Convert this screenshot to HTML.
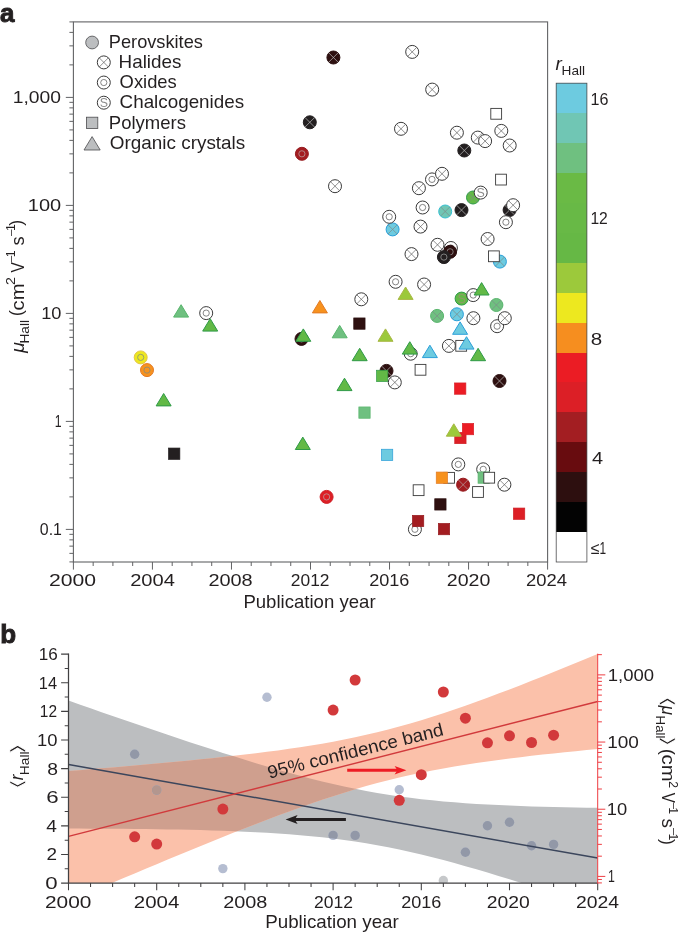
<!DOCTYPE html>
<html lang="en"><head><meta charset="utf-8"><title>Hall mobility versus publication year</title>
<style>html,body{margin:0;padding:0;background:#fff}body{width:685px;height:933px;overflow:hidden}svg{display:block}text{font-family:"Liberation Sans", "DejaVu Sans", Arial, Helvetica, sans-serif}</style></head><body>
<svg width="685" height="933" viewBox="0 0 685 933">
<rect width="685" height="933" fill="#fff"/>
<g id="panel-a">
 <text x="0.1" y="21.6" font-size="26" font-weight="bold" fill="#231f20" stroke="#231f20" stroke-width="0.9">a</text>
<path d="M73.4 561.91H69.4M73.4 553.36H69.4M73.4 546.13H69.4M73.4 539.87H69.4M73.4 534.34H69.4M73.4 529.4H65.8M73.4 496.89H69.4M73.4 477.87H69.4M73.4 464.38H69.4M73.4 453.91H69.4M73.4 445.36H69.4M73.4 438.13H69.4M73.4 431.87H69.4M73.4 426.34H69.4M73.4 421.4H65.8M73.4 388.89H69.4M73.4 369.87H69.4M73.4 356.38H69.4M73.4 345.91H69.4M73.4 337.36H69.4M73.4 330.13H69.4M73.4 323.87H69.4M73.4 318.34H69.4M73.4 313.4H65.8M73.4 280.89H69.4M73.4 261.87H69.4M73.4 248.38H69.4M73.4 237.91H69.4M73.4 229.36H69.4M73.4 222.13H69.4M73.4 215.87H69.4M73.4 210.34H69.4M73.4 205.4H65.8M73.4 172.89H69.4M73.4 153.87H69.4M73.4 140.38H69.4M73.4 129.91H69.4M73.4 121.36H69.4M73.4 114.13H69.4M73.4 107.87H69.4M73.4 102.34H69.4M73.4 97.4H65.8M73.4 64.89H69.4M73.4 45.87H69.4M73.4 32.38H69.4M73.4 21.91H69.4M73.4 562V569.6M93.16 562V566M112.92 562V566M132.68 562V566M152.43 562V569.6M172.19 562V566M191.95 562V566M211.71 562V566M231.47 562V569.6M251.23 562V566M270.98 562V566M290.74 562V566M310.5 562V569.6M330.26 562V566M350.02 562V566M369.78 562V566M389.53 562V569.6M409.29 562V566M429.05 562V566M448.81 562V566M468.57 562V569.6M488.33 562V566M508.08 562V566M527.84 562V566M547.6 562V569.6" stroke="#626365" stroke-width="1" fill="none"/>
<rect x="73.4" y="21.9" width="474.2" height="540.1" fill="none" stroke="#626365" stroke-width="1.1"/>
<text id="ay0" x="12.8" y="103.4" font-size="17" fill="#231f20" textLength="48.23" lengthAdjust="spacingAndGlyphs">1,000</text>
<text id="ay1" x="27.8" y="211.4" font-size="17" fill="#231f20" textLength="33.38" lengthAdjust="spacingAndGlyphs">100</text>
<text id="ay2" x="41.2" y="319.4" font-size="17" fill="#231f20" textLength="20.26" lengthAdjust="spacingAndGlyphs">10</text>
<text id="ay3" x="54.8" y="427.4" font-size="17" fill="#231f20" textLength="6.83" lengthAdjust="spacingAndGlyphs">1</text>
<text id="ay4" x="39.8" y="535.4" font-size="17" fill="#231f20" textLength="22.1" lengthAdjust="spacingAndGlyphs">0.1</text>
<text id="ax0" x="49" y="586.4" font-size="17" fill="#231f20" textLength="47.07" lengthAdjust="spacingAndGlyphs">2000</text>
<text id="ax1" x="130.2" y="586.4" font-size="17" fill="#231f20" textLength="44.75" lengthAdjust="spacingAndGlyphs">2004</text>
<text id="ax2" x="208.4" y="586.4" font-size="17" fill="#231f20" textLength="44.32" lengthAdjust="spacingAndGlyphs">2008</text>
<text id="ax3" x="290.8" y="586.4" font-size="17" fill="#231f20" textLength="38.68" lengthAdjust="spacingAndGlyphs">2012</text>
<text id="ax4" x="369.2" y="586.4" font-size="17" fill="#231f20" textLength="40.24" lengthAdjust="spacingAndGlyphs">2016</text>
<text id="ax5" x="446.8" y="586.4" font-size="17" fill="#231f20" textLength="43.54" lengthAdjust="spacingAndGlyphs">2020</text>
<text id="ax6" x="526" y="586.4" font-size="17" fill="#231f20" textLength="41.01" lengthAdjust="spacingAndGlyphs">2024</text>
<text id="axt" x="243.4" y="608.2" font-size="17.8" fill="#231f20" textLength="132.19" lengthAdjust="spacingAndGlyphs">Publication year</text>
<text id="at_mu" transform="translate(23.5 352.8) rotate(-90)" font-size="17.5" fill="#231f20" textLength="10.68" lengthAdjust="spacingAndGlyphs" font-style="italic">μ</text>
<text id="at_hall" transform="translate(28.9 343.6) rotate(-90)" font-size="12.8" fill="#231f20" textLength="23.63" lengthAdjust="spacingAndGlyphs">Hall</text>
<text id="at_par" transform="translate(22.2 315.9) rotate(-90)" font-size="17.5" fill="#231f20">(</text>
<text id="at_cm" transform="translate(23.5 310.4) rotate(-90)" font-size="17.5" fill="#231f20" textLength="26.87" lengthAdjust="spacingAndGlyphs">cm</text>
<text id="at_2" transform="translate(15.2 285) rotate(-90)" font-size="12.3" fill="#231f20" textLength="7.95" lengthAdjust="spacingAndGlyphs">2</text>
<text id="at_v" transform="translate(23.5 272.4) rotate(-90)" font-size="17.5" fill="#231f20" textLength="10.44" lengthAdjust="spacingAndGlyphs">V</text>
<text id="at_m1m" transform="translate(14.9 263) rotate(-90)" font-size="11" fill="#231f20" textLength="7.98" lengthAdjust="spacingAndGlyphs">−</text>
<text id="at_m1" transform="translate(15.2 257.15) rotate(-90)" font-size="12.3" fill="#231f20">1</text>
<text id="at_s" transform="translate(23.5 245.4) rotate(-90)" font-size="17.5" fill="#231f20" textLength="9.18" lengthAdjust="spacingAndGlyphs">s</text>
<text id="at_m1bm" transform="translate(14.9 236.8) rotate(-90)" font-size="11" fill="#231f20" textLength="7.78" lengthAdjust="spacingAndGlyphs">−</text>
<text id="at_m1b" transform="translate(15.2 231) rotate(-90)" font-size="12.3" fill="#231f20">1</text>
<text id="at_par2" transform="translate(22.2 225.75) rotate(-90)" font-size="17.5" fill="#231f20">)</text>
<circle cx="92.1" cy="42.5" r="6.4" fill="#bcbec0" stroke="#4d4d4f" stroke-width="0.8"/>
<text id="lg0" x="108.8" y="47.8" font-size="17.8" fill="#231f20" textLength="94.11" lengthAdjust="spacingAndGlyphs">Perovskites</text>
<circle cx="103.8" cy="62.4" r="6.5" fill="#ffffff" stroke="#3a3a3a" stroke-width="1"/><path d="M99.05 57.65L108.55 67.15M99.05 67.15L108.55 57.65" stroke="#5e5e5e" stroke-width="0.7" fill="none"/>
<text id="lg1" x="118.6" y="67.6" font-size="17.8" fill="#231f20" textLength="62.86" lengthAdjust="spacingAndGlyphs">Halides</text>
<circle cx="103.8" cy="82.55" r="6.5" fill="#ffffff" stroke="#3a3a3a" stroke-width="1"/><circle cx="103.8" cy="82.55" r="3.1" fill="none" stroke="#5e5e5e" stroke-width="0.75"/>
<text id="lg2" x="119.6" y="87.75" font-size="17.8" fill="#231f20" textLength="57.15" lengthAdjust="spacingAndGlyphs">Oxides</text>
<circle cx="103.8" cy="102.7" r="6.5" fill="#ffffff" stroke="#3a3a3a" stroke-width="1"/><text x="103.8" y="107.15" font-size="12.4" text-anchor="middle" fill="#8c8c8c">S</text>
<text id="lg3" x="119.6" y="107.9" font-size="17.8" fill="#231f20" textLength="124.49" lengthAdjust="spacingAndGlyphs">Chalcogenides</text>
<rect x="86.4" y="117.2" width="11.4" height="11.4" fill="#bcbec0" stroke="#4d4d4f" stroke-width="0.8"/>
<text id="lg4" x="108.8" y="128.6" font-size="17.8" fill="#231f20" textLength="77.15" lengthAdjust="spacingAndGlyphs">Polymers</text>
<path d="M92.1 136.6L100.2 150H84Z" fill="#bcbec0" stroke="#4d4d4f" stroke-width="0.8"/>
<text id="lg5" x="109.8" y="149" font-size="17.8" fill="#231f20" textLength="135.47" lengthAdjust="spacingAndGlyphs">Organic crystals</text>
<rect x="556.2" y="83.2" width="30.7" height="30.53" fill="#6dcbe0" shape-rendering="crispEdges"/>
<rect x="556.2" y="113.12" width="30.7" height="30.53" fill="#70c6b4" shape-rendering="crispEdges"/>
<rect x="556.2" y="143.05" width="30.7" height="30.53" fill="#6fc080" shape-rendering="crispEdges"/>
<rect x="556.2" y="172.98" width="30.7" height="30.53" fill="#6aba45" shape-rendering="crispEdges"/>
<rect x="556.2" y="202.9" width="30.7" height="30.53" fill="#68b946" shape-rendering="crispEdges"/>
<rect x="556.2" y="232.82" width="30.7" height="30.53" fill="#66b845" shape-rendering="crispEdges"/>
<rect x="556.2" y="262.75" width="30.7" height="30.53" fill="#9cc93b" shape-rendering="crispEdges"/>
<rect x="556.2" y="292.68" width="30.7" height="30.53" fill="#ede81f" shape-rendering="crispEdges"/>
<rect x="556.2" y="322.6" width="30.7" height="30.53" fill="#f68e1f" shape-rendering="crispEdges"/>
<rect x="556.2" y="352.52" width="30.7" height="30.53" fill="#eb1c24" shape-rendering="crispEdges"/>
<rect x="556.2" y="382.45" width="30.7" height="30.53" fill="#dc1f26" shape-rendering="crispEdges"/>
<rect x="556.2" y="412.38" width="30.7" height="30.53" fill="#a31e22" shape-rendering="crispEdges"/>
<rect x="556.2" y="442.3" width="30.7" height="30.53" fill="#680c0f" shape-rendering="crispEdges"/>
<rect x="556.2" y="472.23" width="30.7" height="30.53" fill="#2d0f0f" shape-rendering="crispEdges"/>
<rect x="556.2" y="502.15" width="30.7" height="30.53" fill="#030303" shape-rendering="crispEdges"/>
<rect x="556.2" y="532.08" width="30.7" height="29.93" fill="#ffffff" shape-rendering="crispEdges"/>
<rect x="556.2" y="83.2" width="30.7" height="478.8" fill="none" stroke="#4d4d4f" stroke-width="0.8"/>
<text id="cb0" x="590.6" y="104.9" font-size="17" fill="#231f20" textLength="17.95" lengthAdjust="spacingAndGlyphs">16</text>
<text id="cb1" x="590.4" y="224.2" font-size="17" fill="#231f20" textLength="17.42" lengthAdjust="spacingAndGlyphs">12</text>
<text id="cb2" x="590.8" y="344.5" font-size="17" fill="#231f20" textLength="11.45" lengthAdjust="spacingAndGlyphs">8</text>
<text id="cb3" x="592" y="464" font-size="17" fill="#231f20" textLength="11.11" lengthAdjust="spacingAndGlyphs">4</text>
<text id="cb4a" x="590.4" y="553.9" font-size="16.5" fill="#231f20" textLength="8.78" lengthAdjust="spacingAndGlyphs">≤</text>
<text id="cb4b" x="599.5" y="553.9" font-size="17" fill="#231f20" textLength="6.62" lengthAdjust="spacingAndGlyphs">1</text>
<text id="cbr" x="555.4" y="69.9" font-size="18.5" fill="#231f20" textLength="6.32" lengthAdjust="spacingAndGlyphs" font-style="italic">r</text>
<text id="cbh" x="561.6" y="75" font-size="12.8" fill="#231f20" textLength="23.52" lengthAdjust="spacingAndGlyphs">Hall</text>
<g id="markers-a">
<path d="M181.1 304.7L188.6 317.1L173.6 317.1Z" fill="#6fc080" stroke="#58b56c" stroke-width="1" stroke-linejoin="miter"/>
<circle cx="206.2" cy="313.1" r="6.5" fill="#ffffff" stroke="#3a3a3a" stroke-width="1"/><circle cx="206.2" cy="313.1" r="3.1" fill="none" stroke="#5e5e5e" stroke-width="0.75"/>
<path d="M210.2 318.7L217.7 331.1L202.7 331.1Z" fill="#62b946" stroke="#2e9a47" stroke-width="1" stroke-linejoin="miter"/>
<circle cx="147" cy="370.1" r="6.5" fill="#f7921e" stroke="#e27a25" stroke-width="1"/><circle cx="147" cy="370.1" r="3.1" fill="none" stroke="#7d8a86" stroke-width="0.75"/>
<circle cx="140.7" cy="357.4" r="6.5" fill="#ede81f" stroke="#e3c54a" stroke-width="1"/><circle cx="140.7" cy="357.4" r="3.1" fill="none" stroke="#7d8a86" stroke-width="0.75"/>
<path d="M163.65 393.5L171.15 405.9L156.15 405.9Z" fill="#62b946" stroke="#2e9a47" stroke-width="1" stroke-linejoin="miter"/>
<rect x="168.55" y="448.05" width="11.3" height="11.3" fill="#231f20" stroke="#231f20" stroke-width="0.7"/>
<circle cx="333.4" cy="57.5" r="6.5" fill="#2e1010" stroke="#2a0e0e" stroke-width="1"/><path d="M328.65 52.75L338.15 62.25M328.65 62.25L338.15 52.75" stroke="#bdbdbd" stroke-width="0.7" fill="none"/>
<circle cx="309.8" cy="122.3" r="6.5" fill="#231f20" stroke="#231f20" stroke-width="1"/><path d="M305.05 117.55L314.55 127.05M305.05 127.05L314.55 117.55" stroke="#bdbdbd" stroke-width="0.7" fill="none"/>
<circle cx="301.9" cy="153.8" r="6.5" fill="#a31d21" stroke="#961b1f" stroke-width="1"/><circle cx="301.9" cy="153.8" r="3.1" fill="none" stroke="#b9a3a3" stroke-width="0.75"/>
<circle cx="335" cy="186.2" r="6.5" fill="#ffffff" stroke="#3a3a3a" stroke-width="1"/><path d="M330.25 181.45L339.75 190.95M330.25 190.95L339.75 181.45" stroke="#5e5e5e" stroke-width="0.7" fill="none"/>
<path d="M319.9 300.5L327.4 312.9L312.4 312.9Z" fill="#f7921e" stroke="#e27a25" stroke-width="1" stroke-linejoin="miter"/>
<circle cx="361.3" cy="299.3" r="6.5" fill="#ffffff" stroke="#3a3a3a" stroke-width="1"/><path d="M356.55 294.55L366.05 304.05M356.55 304.05L366.05 294.55" stroke="#5e5e5e" stroke-width="0.7" fill="none"/>
<rect x="353.75" y="317.95" width="11.3" height="11.3" fill="#2e1010" stroke="#2a0e0e" stroke-width="0.7"/>
<circle cx="301.5" cy="338.9" r="6.5" fill="#2e1010" stroke="#2a0e0e" stroke-width="1"/><circle cx="301.5" cy="338.9" r="3.1" fill="none" stroke="#9c9c9c" stroke-width="0.75"/>
<path d="M303.3 328.9L310.8 341.3L295.8 341.3Z" fill="#62b946" stroke="#2e9a47" stroke-width="1" stroke-linejoin="miter"/>
<path d="M339.7 325.4L347.2 337.8L332.2 337.8Z" fill="#6fc080" stroke="#58b56c" stroke-width="1" stroke-linejoin="miter"/>
<path d="M385.5 328.9L393 341.3L378 341.3Z" fill="#9cc93b" stroke="#a9b845" stroke-width="1" stroke-linejoin="miter"/>
<path d="M359.7 348.3L367.2 360.7L352.2 360.7Z" fill="#62b946" stroke="#2e9a47" stroke-width="1" stroke-linejoin="miter"/>
<path d="M344.5 378.2L352 390.6L337 390.6Z" fill="#62b946" stroke="#2e9a47" stroke-width="1" stroke-linejoin="miter"/>
<circle cx="386.5" cy="370.9" r="6.5" fill="#2e1010" stroke="#2a0e0e" stroke-width="1"/><path d="M381.75 366.15L391.25 375.65M381.75 375.65L391.25 366.15" stroke="#bdbdbd" stroke-width="0.7" fill="none"/>
<rect x="376.55" y="370.25" width="11.3" height="11.3" fill="#62b946" stroke="#2e9a47" stroke-width="0.7"/>
<circle cx="394.8" cy="382.4" r="6.5" fill="#ffffff" stroke="#3a3a3a" stroke-width="1"/><path d="M390.05 377.65L399.55 387.15M390.05 387.15L399.55 377.65" stroke="#5e5e5e" stroke-width="0.7" fill="none"/>
<rect x="358.85" y="406.95" width="11.3" height="11.3" fill="#6fc080" stroke="#58b56c" stroke-width="0.7"/>
<path d="M302.8 437.1L310.3 449.5L295.3 449.5Z" fill="#62b946" stroke="#2e9a47" stroke-width="1" stroke-linejoin="miter"/>
<rect x="381.45" y="449.25" width="11.3" height="11.3" fill="#6dcbe0" stroke="#2b9fd9" stroke-width="0.7"/>
<circle cx="326.6" cy="496.9" r="6.5" fill="#dd1f26" stroke="#cf2027" stroke-width="1"/><circle cx="326.6" cy="496.9" r="3.1" fill="none" stroke="#b9a3a3" stroke-width="0.75"/>
<circle cx="412.2" cy="51.9" r="6.5" fill="#ffffff" stroke="#3a3a3a" stroke-width="1"/><path d="M407.45 47.15L416.95 56.65M407.45 56.65L416.95 47.15" stroke="#5e5e5e" stroke-width="0.7" fill="none"/>
<circle cx="432.2" cy="89.6" r="6.5" fill="#ffffff" stroke="#3a3a3a" stroke-width="1"/><path d="M427.45 84.85L436.95 94.35M427.45 94.35L436.95 84.85" stroke="#5e5e5e" stroke-width="0.7" fill="none"/>
<circle cx="401" cy="128.8" r="6.5" fill="#ffffff" stroke="#3a3a3a" stroke-width="1"/><path d="M396.25 124.05L405.75 133.55M396.25 133.55L405.75 124.05" stroke="#5e5e5e" stroke-width="0.7" fill="none"/>
<circle cx="456.9" cy="132.7" r="6.5" fill="#ffffff" stroke="#3a3a3a" stroke-width="1"/><path d="M452.15 127.95L461.65 137.45M452.15 137.45L461.65 127.95" stroke="#5e5e5e" stroke-width="0.7" fill="none"/>
<circle cx="477.8" cy="137.6" r="6.5" fill="#ffffff" stroke="#3a3a3a" stroke-width="1"/><path d="M473.05 132.85L482.55 142.35M473.05 142.35L482.55 132.85" stroke="#5e5e5e" stroke-width="0.7" fill="none"/>
<circle cx="485.1" cy="141.1" r="6.5" fill="#ffffff" stroke="#3a3a3a" stroke-width="1"/><path d="M480.35 136.35L489.85 145.85M480.35 145.85L489.85 136.35" stroke="#5e5e5e" stroke-width="0.7" fill="none"/>
<circle cx="464.3" cy="150.5" r="6.5" fill="#231f20" stroke="#231f20" stroke-width="1"/><path d="M459.55 145.75L469.05 155.25M459.55 155.25L469.05 145.75" stroke="#bdbdbd" stroke-width="0.7" fill="none"/>
<rect x="490.8" y="108.4" width="10.8" height="10.8" fill="#fff" stroke="#3a3a3a" stroke-width="0.9"/>
<circle cx="501.3" cy="130.9" r="6.5" fill="#ffffff" stroke="#3a3a3a" stroke-width="1"/><path d="M496.55 126.15L506.05 135.65M496.55 135.65L506.05 126.15" stroke="#5e5e5e" stroke-width="0.7" fill="none"/>
<circle cx="509.7" cy="145.5" r="6.5" fill="#ffffff" stroke="#3a3a3a" stroke-width="1"/><path d="M504.95 140.75L514.45 150.25M504.95 150.25L514.45 140.75" stroke="#5e5e5e" stroke-width="0.7" fill="none"/>
<rect x="495.6" y="174.2" width="10.8" height="10.8" fill="#fff" stroke="#3a3a3a" stroke-width="0.9"/>
<circle cx="432" cy="179.4" r="6.5" fill="#ffffff" stroke="#3a3a3a" stroke-width="1"/><circle cx="432" cy="179.4" r="3.1" fill="none" stroke="#5e5e5e" stroke-width="0.75"/>
<circle cx="442" cy="173.8" r="6.5" fill="#ffffff" stroke="#3a3a3a" stroke-width="1"/><path d="M437.25 169.05L446.75 178.55M437.25 178.55L446.75 169.05" stroke="#5e5e5e" stroke-width="0.7" fill="none"/>
<circle cx="418.9" cy="188.2" r="6.5" fill="#ffffff" stroke="#3a3a3a" stroke-width="1"/><path d="M414.15 183.45L423.65 192.95M414.15 192.95L423.65 183.45" stroke="#5e5e5e" stroke-width="0.7" fill="none"/>
<circle cx="473" cy="197.5" r="6.5" fill="#62b946" stroke="#2e9a47" stroke-width="1"/><path d="M468.25 192.75L477.75 202.25M468.25 202.25L477.75 192.75" stroke="#7d8a86" stroke-width="0.7" fill="none"/>
<circle cx="480.7" cy="192.6" r="6.5" fill="#ffffff" stroke="#3a3a3a" stroke-width="1"/><text x="480.7" y="197.05" font-size="12.4" text-anchor="middle" fill="#8c8c8c">S</text>
<circle cx="392.6" cy="229.4" r="6.5" fill="#6dcbe0" stroke="#2b9fd9" stroke-width="1"/><path d="M387.85 224.65L397.35 234.15M387.85 234.15L397.35 224.65" stroke="#7d8a86" stroke-width="0.7" fill="none"/>
<circle cx="389.2" cy="216.8" r="6.5" fill="#ffffff" stroke="#3a3a3a" stroke-width="1"/><circle cx="389.2" cy="216.8" r="3.1" fill="none" stroke="#5e5e5e" stroke-width="0.75"/>
<circle cx="422.6" cy="207.5" r="6.5" fill="#ffffff" stroke="#3a3a3a" stroke-width="1"/><circle cx="422.6" cy="207.5" r="3.1" fill="none" stroke="#5e5e5e" stroke-width="0.75"/>
<circle cx="420.5" cy="226.6" r="6.5" fill="#ffffff" stroke="#3a3a3a" stroke-width="1"/><path d="M415.75 221.85L425.25 231.35M415.75 231.35L425.25 221.85" stroke="#5e5e5e" stroke-width="0.7" fill="none"/>
<circle cx="445.2" cy="211.5" r="6.5" fill="#70c6b4" stroke="#35c0d2" stroke-width="1"/><path d="M440.45 206.75L449.95 216.25M440.45 216.25L449.95 206.75" stroke="#7d8a86" stroke-width="0.7" fill="none"/>
<circle cx="461.5" cy="210.1" r="6.5" fill="#231f20" stroke="#231f20" stroke-width="1"/><path d="M456.75 205.35L466.25 214.85M456.75 214.85L466.25 205.35" stroke="#bdbdbd" stroke-width="0.7" fill="none"/>
<circle cx="509.6" cy="210" r="6.5" fill="#231f20" stroke="#231f20" stroke-width="1"/><path d="M504.85 205.25L514.35 214.75M504.85 214.75L514.35 205.25" stroke="#bdbdbd" stroke-width="0.7" fill="none"/>
<circle cx="513.1" cy="205.2" r="6.5" fill="#ffffff" stroke="#3a3a3a" stroke-width="1"/><path d="M508.35 200.45L517.85 209.95M508.35 209.95L517.85 200.45" stroke="#5e5e5e" stroke-width="0.7" fill="none"/>
<circle cx="505.9" cy="222.2" r="6.5" fill="#ffffff" stroke="#3a3a3a" stroke-width="1"/><circle cx="505.9" cy="222.2" r="3.1" fill="none" stroke="#5e5e5e" stroke-width="0.75"/>
<circle cx="487.6" cy="239" r="6.5" fill="#ffffff" stroke="#3a3a3a" stroke-width="1"/><path d="M482.85 234.25L492.35 243.75M482.85 243.75L492.35 234.25" stroke="#5e5e5e" stroke-width="0.7" fill="none"/>
<circle cx="450.9" cy="248" r="6.5" fill="#ffffff" stroke="#3a3a3a" stroke-width="1"/><circle cx="450.9" cy="248" r="3.1" fill="none" stroke="#5e5e5e" stroke-width="0.75"/>
<circle cx="450.1" cy="251.8" r="6.5" fill="#2e1010" stroke="#2a0e0e" stroke-width="1"/><circle cx="450.1" cy="251.8" r="3.1" fill="none" stroke="#9c9c9c" stroke-width="0.75"/>
<circle cx="443.9" cy="257.1" r="6.5" fill="#231f20" stroke="#231f20" stroke-width="1"/><circle cx="443.9" cy="257.1" r="3.1" fill="none" stroke="#9c9c9c" stroke-width="0.75"/>
<circle cx="437.5" cy="244.8" r="6.5" fill="#ffffff" stroke="#3a3a3a" stroke-width="1"/><path d="M432.75 240.05L442.25 249.55M432.75 249.55L442.25 240.05" stroke="#5e5e5e" stroke-width="0.7" fill="none"/>
<circle cx="411.5" cy="254.1" r="6.5" fill="#ffffff" stroke="#3a3a3a" stroke-width="1"/><path d="M406.75 249.35L416.25 258.85M406.75 258.85L416.25 249.35" stroke="#5e5e5e" stroke-width="0.7" fill="none"/>
<circle cx="499.9" cy="261.6" r="6.5" fill="#6dcbe0" stroke="#2b9fd9" stroke-width="1"/><path d="M495.15 256.85L504.65 266.35M495.15 266.35L504.65 256.85" stroke="#7d8a86" stroke-width="0.7" fill="none"/>
<rect x="488.5" y="250.9" width="10.8" height="10.8" fill="#fff" stroke="#3a3a3a" stroke-width="0.9"/>
<circle cx="395.6" cy="281.8" r="6.5" fill="#ffffff" stroke="#3a3a3a" stroke-width="1"/><circle cx="395.6" cy="281.8" r="3.1" fill="none" stroke="#5e5e5e" stroke-width="0.75"/>
<circle cx="424.1" cy="284.5" r="6.5" fill="#ffffff" stroke="#3a3a3a" stroke-width="1"/><path d="M419.35 279.75L428.85 289.25M419.35 289.25L428.85 279.75" stroke="#5e5e5e" stroke-width="0.7" fill="none"/>
<path d="M405.6 287L413.1 299.4L398.1 299.4Z" fill="#9cc93b" stroke="#a9b845" stroke-width="1" stroke-linejoin="miter"/>
<circle cx="461.6" cy="298.6" r="6.5" fill="#62b946" stroke="#2e9a47" stroke-width="1"/><text x="461.6" y="303.05" font-size="12.4" text-anchor="middle" fill="#8f9a6a">S</text>
<circle cx="473.2" cy="295.1" r="6.5" fill="#ffffff" stroke="#3a3a3a" stroke-width="1"/><circle cx="473.2" cy="295.1" r="3.1" fill="none" stroke="#5e5e5e" stroke-width="0.75"/>
<path d="M481.6 282.6L489.1 295L474.1 295Z" fill="#62b946" stroke="#2e9a47" stroke-width="1" stroke-linejoin="miter"/>
<circle cx="496.4" cy="305" r="6.5" fill="#6fc080" stroke="#58b56c" stroke-width="1"/><path d="M491.65 300.25L501.15 309.75M491.65 309.75L501.15 300.25" stroke="#7d8a86" stroke-width="0.7" fill="none"/>
<circle cx="437.1" cy="315.9" r="6.5" fill="#6fc080" stroke="#58b56c" stroke-width="1"/><path d="M432.35 311.15L441.85 320.65M432.35 320.65L441.85 311.15" stroke="#7d8a86" stroke-width="0.7" fill="none"/>
<circle cx="456.9" cy="314.3" r="6.5" fill="#6dcbe0" stroke="#2b9fd9" stroke-width="1"/><path d="M452.15 309.55L461.65 319.05M452.15 319.05L461.65 309.55" stroke="#7d8a86" stroke-width="0.7" fill="none"/>
<circle cx="473.4" cy="318.2" r="6.5" fill="#ffffff" stroke="#3a3a3a" stroke-width="1"/><path d="M468.65 313.45L478.15 322.95M468.65 322.95L478.15 313.45" stroke="#5e5e5e" stroke-width="0.7" fill="none"/>
<circle cx="497.1" cy="326.2" r="6.5" fill="#ffffff" stroke="#3a3a3a" stroke-width="1"/><circle cx="497.1" cy="326.2" r="3.1" fill="none" stroke="#5e5e5e" stroke-width="0.75"/>
<circle cx="504.8" cy="318.2" r="6.5" fill="#ffffff" stroke="#3a3a3a" stroke-width="1"/><path d="M500.05 313.45L509.55 322.95M500.05 322.95L509.55 313.45" stroke="#5e5e5e" stroke-width="0.7" fill="none"/>
<path d="M460.1 321.9L467.6 334.3L452.6 334.3Z" fill="#6dcbe0" stroke="#2b9fd9" stroke-width="1" stroke-linejoin="miter"/>
<rect x="455.8" y="340.4" width="10.8" height="10.8" fill="#fff" stroke="#3a3a3a" stroke-width="0.9"/>
<circle cx="448.9" cy="345.9" r="6.5" fill="#ffffff" stroke="#3a3a3a" stroke-width="1"/><path d="M444.15 341.15L453.65 350.65M444.15 350.65L453.65 341.15" stroke="#5e5e5e" stroke-width="0.7" fill="none"/>
<path d="M466.5 336.7L474 349.1L459 349.1Z" fill="#6dcbe0" stroke="#2b9fd9" stroke-width="1" stroke-linejoin="miter"/>
<path d="M478.1 348.3L485.6 360.7L470.6 360.7Z" fill="#62b946" stroke="#2e9a47" stroke-width="1" stroke-linejoin="miter"/>
<path d="M429.9 345.2L437.4 357.6L422.4 357.6Z" fill="#6dcbe0" stroke="#2b9fd9" stroke-width="1" stroke-linejoin="miter"/>
<circle cx="410.7" cy="353.7" r="6.5" fill="#ffffff" stroke="#3a3a3a" stroke-width="1"/><circle cx="410.7" cy="353.7" r="3.1" fill="none" stroke="#5e5e5e" stroke-width="0.75"/>
<path d="M409.8 341.7L417.3 354.1L402.3 354.1Z" fill="#62b946" stroke="#2e9a47" stroke-width="1" stroke-linejoin="miter"/>
<rect x="415.1" y="364.4" width="10.8" height="10.8" fill="#fff" stroke="#3a3a3a" stroke-width="0.9"/>
<rect x="454.55" y="382.95" width="11.3" height="11.3" fill="#ec1c24" stroke="#d9222a" stroke-width="0.7"/>
<circle cx="499.5" cy="381" r="6.5" fill="#2e1010" stroke="#2a0e0e" stroke-width="1"/><path d="M494.75 376.25L504.25 385.75M494.75 385.75L504.25 376.25" stroke="#bdbdbd" stroke-width="0.7" fill="none"/>
<rect x="454.75" y="432.35" width="11.3" height="11.3" fill="#dd1f26" stroke="#cf2027" stroke-width="0.7"/>
<rect x="462.35" y="423.45" width="11.3" height="11.3" fill="#ec1c24" stroke="#d9222a" stroke-width="0.7"/>
<path d="M453.8 423.8L461.3 436.2L446.3 436.2Z" fill="#9cc93b" stroke="#a9b845" stroke-width="1" stroke-linejoin="miter"/>
<circle cx="458.3" cy="464.4" r="6.5" fill="#ffffff" stroke="#3a3a3a" stroke-width="1"/><circle cx="458.3" cy="464.4" r="3.1" fill="none" stroke="#5e5e5e" stroke-width="0.75"/>
<circle cx="483.2" cy="469.3" r="6.5" fill="#ffffff" stroke="#3a3a3a" stroke-width="1"/><circle cx="483.2" cy="469.3" r="3.1" fill="none" stroke="#5e5e5e" stroke-width="0.75"/>
<rect x="443.7" y="472.4" width="10.8" height="10.8" fill="#fff" stroke="#3a3a3a" stroke-width="0.9"/>
<rect x="436.25" y="472.05" width="11.3" height="11.3" fill="#f7921e" stroke="#e27a25" stroke-width="0.7"/>
<rect x="478.05" y="471.95" width="11.3" height="11.3" fill="#6fc080" stroke="#58b56c" stroke-width="0.7"/>
<rect x="483.8" y="472.3" width="10.8" height="10.8" fill="#fff" stroke="#3a3a3a" stroke-width="0.9"/>
<circle cx="463.1" cy="484.7" r="6.5" fill="#a31d21" stroke="#961b1f" stroke-width="1"/><path d="M458.35 479.95L467.85 489.45M458.35 489.45L467.85 479.95" stroke="#b9a3a3" stroke-width="0.7" fill="none"/>
<circle cx="504.4" cy="484.7" r="6.5" fill="#ffffff" stroke="#3a3a3a" stroke-width="1"/><path d="M499.65 479.95L509.15 489.45M499.65 489.45L509.15 479.95" stroke="#5e5e5e" stroke-width="0.7" fill="none"/>
<rect x="472.6" y="486.6" width="10.8" height="10.8" fill="#fff" stroke="#3a3a3a" stroke-width="0.9"/>
<rect x="413.2" y="484.8" width="10.8" height="10.8" fill="#fff" stroke="#3a3a3a" stroke-width="0.9"/>
<rect x="434.75" y="498.75" width="11.3" height="11.3" fill="#2e1010" stroke="#2a0e0e" stroke-width="0.7"/>
<circle cx="414.9" cy="529.3" r="6.5" fill="#ffffff" stroke="#3a3a3a" stroke-width="1"/><circle cx="414.9" cy="529.3" r="3.1" fill="none" stroke="#5e5e5e" stroke-width="0.75"/>
<rect x="412.45" y="515.35" width="11.3" height="11.3" fill="#a31d21" stroke="#961b1f" stroke-width="0.7"/>
<rect x="438.35" y="523.45" width="11.3" height="11.3" fill="#a31d21" stroke="#961b1f" stroke-width="0.7"/>
<rect x="513.45" y="508.05" width="11.3" height="11.3" fill="#dd1f26" stroke="#cf2027" stroke-width="0.7"/>
</g>
</g>
<g id="panel-b">
<text x="0.2" y="643.4" font-size="26" font-weight="bold" fill="#231f20" stroke="#231f20" stroke-width="0.9">b</text>
<defs><clipPath id="cb"><rect x="68.5" y="654.1" width="529.2" height="229"/></clipPath><clipPath id="cg"><polygon points="68.5,700.6 79.53,704.46 90.55,708.31 101.58,712.15 112.6,715.98 123.62,719.78 134.65,723.57 145.68,727.34 156.7,731.08 167.73,734.8 178.75,738.49 189.78,742.14 200.8,745.76 211.83,749.34 222.85,752.88 233.88,756.36 244.9,759.78 255.93,763.14 266.95,766.43 277.98,769.63 289,772.74 300.02,775.74 311.05,778.63 322.08,781.39 333.1,784.01 344.12,786.48 355.15,788.8 366.18,790.95 377.2,792.92 388.23,794.73 399.25,796.38 410.28,797.86 421.3,799.18 432.32,800.37 443.35,801.42 454.38,802.35 465.4,803.18 476.43,803.9 487.45,804.54 498.48,805.1 509.5,805.59 520.53,806.02 531.55,806.4 542.58,806.73 553.6,807.02 564.62,807.27 575.65,807.48 586.68,807.67 597.7,807.83 597.7,908.19 586.68,904.46 575.65,900.75 564.62,897.07 553.6,893.43 542.58,889.82 531.55,886.26 520.53,882.75 509.5,879.28 498.48,875.88 487.45,872.55 476.43,869.3 465.4,866.13 454.38,863.06 443.35,860.1 432.32,857.26 421.3,854.55 410.28,851.99 399.25,849.58 388.23,847.33 377.2,845.24 366.18,843.33 355.15,841.58 344.12,840.01 333.1,838.58 322.08,837.31 311.05,836.18 300.02,835.18 289,834.29 277.98,833.5 266.95,832.81 255.93,832.21 244.9,831.67 233.88,831.2 222.85,830.79 211.83,830.44 200.8,830.12 189.78,829.85 178.75,829.62 167.73,829.41 156.7,829.24 145.68,829.09 134.65,828.96 123.62,828.86 112.6,828.77 101.58,828.7 90.55,828.65 79.53,828.61 68.5,828.58"/></clipPath><clipPath id="cs"><polygon points="68.5,771.04 79.53,770.16 90.55,769.26 101.58,768.35 112.6,767.42 123.62,766.49 134.65,765.53 145.68,764.56 156.7,763.57 167.73,762.55 178.75,761.51 189.78,760.45 200.8,759.35 211.83,758.22 222.85,757.05 233.88,755.83 244.9,754.56 255.93,753.24 266.95,751.86 277.98,750.4 289,748.86 300.02,747.23 311.05,745.5 322.08,743.65 333.1,741.67 344.12,739.56 355.15,737.29 366.18,734.87 377.2,732.27 388.23,729.51 399.25,726.58 410.28,723.47 421.3,720.2 432.32,716.78 443.35,713.21 454.38,709.5 465.4,705.68 476.43,701.74 487.45,697.71 498.48,693.59 509.5,689.4 520.53,685.13 531.55,680.81 542.58,676.43 553.6,672 564.62,667.54 575.65,663.03 586.68,658.5 597.7,653.93 597.7,749.02 586.68,750.07 575.65,751.16 564.62,752.27 553.6,753.42 542.58,754.62 531.55,755.86 520.53,757.15 509.5,758.51 498.48,759.93 487.45,761.43 476.43,763.02 465.4,764.71 454.38,766.5 443.35,768.42 432.32,770.46 421.3,772.66 410.28,775.01 399.25,777.52 388.23,780.21 377.2,783.06 366.18,786.09 355.15,789.29 344.12,792.64 333.1,796.14 322.08,799.79 311.05,803.56 300.02,807.44 289,811.43 277.98,815.51 266.95,819.67 255.93,823.91 244.9,828.2 233.88,832.56 222.85,836.96 211.83,841.41 200.8,845.9 189.78,850.42 178.75,854.97 167.73,859.55 156.7,864.16 145.68,868.78 134.65,873.43 123.62,878.1 112.6,882.78 101.58,887.47 90.55,892.18 79.53,896.9 68.5,901.64"/></clipPath></defs>
<g clip-path="url(#cb)">
<polygon points="68.5,700.6 79.53,704.46 90.55,708.31 101.58,712.15 112.6,715.98 123.62,719.78 134.65,723.57 145.68,727.34 156.7,731.08 167.73,734.8 178.75,738.49 189.78,742.14 200.8,745.76 211.83,749.34 222.85,752.88 233.88,756.36 244.9,759.78 255.93,763.14 266.95,766.43 277.98,769.63 289,772.74 300.02,775.74 311.05,778.63 322.08,781.39 333.1,784.01 344.12,786.48 355.15,788.8 366.18,790.95 377.2,792.92 388.23,794.73 399.25,796.38 410.28,797.86 421.3,799.18 432.32,800.37 443.35,801.42 454.38,802.35 465.4,803.18 476.43,803.9 487.45,804.54 498.48,805.1 509.5,805.59 520.53,806.02 531.55,806.4 542.58,806.73 553.6,807.02 564.62,807.27 575.65,807.48 586.68,807.67 597.7,807.83 597.7,908.19 586.68,904.46 575.65,900.75 564.62,897.07 553.6,893.43 542.58,889.82 531.55,886.26 520.53,882.75 509.5,879.28 498.48,875.88 487.45,872.55 476.43,869.3 465.4,866.13 454.38,863.06 443.35,860.1 432.32,857.26 421.3,854.55 410.28,851.99 399.25,849.58 388.23,847.33 377.2,845.24 366.18,843.33 355.15,841.58 344.12,840.01 333.1,838.58 322.08,837.31 311.05,836.18 300.02,835.18 289,834.29 277.98,833.5 266.95,832.81 255.93,832.21 244.9,831.67 233.88,831.2 222.85,830.79 211.83,830.44 200.8,830.12 189.78,829.85 178.75,829.62 167.73,829.41 156.7,829.24 145.68,829.09 134.65,828.96 123.62,828.86 112.6,828.77 101.58,828.7 90.55,828.65 79.53,828.61 68.5,828.58" fill="#bcbec0"/>
<polygon points="68.5,771.04 79.53,770.16 90.55,769.26 101.58,768.35 112.6,767.42 123.62,766.49 134.65,765.53 145.68,764.56 156.7,763.57 167.73,762.55 178.75,761.51 189.78,760.45 200.8,759.35 211.83,758.22 222.85,757.05 233.88,755.83 244.9,754.56 255.93,753.24 266.95,751.86 277.98,750.4 289,748.86 300.02,747.23 311.05,745.5 322.08,743.65 333.1,741.67 344.12,739.56 355.15,737.29 366.18,734.87 377.2,732.27 388.23,729.51 399.25,726.58 410.28,723.47 421.3,720.2 432.32,716.78 443.35,713.21 454.38,709.5 465.4,705.68 476.43,701.74 487.45,697.71 498.48,693.59 509.5,689.4 520.53,685.13 531.55,680.81 542.58,676.43 553.6,672 564.62,667.54 575.65,663.03 586.68,658.5 597.7,653.93 597.7,749.02 586.68,750.07 575.65,751.16 564.62,752.27 553.6,753.42 542.58,754.62 531.55,755.86 520.53,757.15 509.5,758.51 498.48,759.93 487.45,761.43 476.43,763.02 465.4,764.71 454.38,766.5 443.35,768.42 432.32,770.46 421.3,772.66 410.28,775.01 399.25,777.52 388.23,780.21 377.2,783.06 366.18,786.09 355.15,789.29 344.12,792.64 333.1,796.14 322.08,799.79 311.05,803.56 300.02,807.44 289,811.43 277.98,815.51 266.95,819.67 255.93,823.91 244.9,828.2 233.88,832.56 222.85,836.96 211.83,841.41 200.8,845.9 189.78,850.42 178.75,854.97 167.73,859.55 156.7,864.16 145.68,868.78 134.65,873.43 123.62,878.1 112.6,882.78 101.58,887.47 90.55,892.18 79.53,896.9 68.5,901.64" fill="#fbc1aa"/>
<g clip-path="url(#cg)"><polygon points="68.5,771.04 79.53,770.16 90.55,769.26 101.58,768.35 112.6,767.42 123.62,766.49 134.65,765.53 145.68,764.56 156.7,763.57 167.73,762.55 178.75,761.51 189.78,760.45 200.8,759.35 211.83,758.22 222.85,757.05 233.88,755.83 244.9,754.56 255.93,753.24 266.95,751.86 277.98,750.4 289,748.86 300.02,747.23 311.05,745.5 322.08,743.65 333.1,741.67 344.12,739.56 355.15,737.29 366.18,734.87 377.2,732.27 388.23,729.51 399.25,726.58 410.28,723.47 421.3,720.2 432.32,716.78 443.35,713.21 454.38,709.5 465.4,705.68 476.43,701.74 487.45,697.71 498.48,693.59 509.5,689.4 520.53,685.13 531.55,680.81 542.58,676.43 553.6,672 564.62,667.54 575.65,663.03 586.68,658.5 597.7,653.93 597.7,749.02 586.68,750.07 575.65,751.16 564.62,752.27 553.6,753.42 542.58,754.62 531.55,755.86 520.53,757.15 509.5,758.51 498.48,759.93 487.45,761.43 476.43,763.02 465.4,764.71 454.38,766.5 443.35,768.42 432.32,770.46 421.3,772.66 410.28,775.01 399.25,777.52 388.23,780.21 377.2,783.06 366.18,786.09 355.15,789.29 344.12,792.64 333.1,796.14 322.08,799.79 311.05,803.56 300.02,807.44 289,811.43 277.98,815.51 266.95,819.67 255.93,823.91 244.9,828.2 233.88,832.56 222.85,836.96 211.83,841.41 200.8,845.9 189.78,850.42 178.75,854.97 167.73,859.55 156.7,864.16 145.68,868.78 134.65,873.43 123.62,878.1 112.6,882.78 101.58,887.47 90.55,892.18 79.53,896.9 68.5,901.64" fill="#cf9f8e"/></g>
<g fill="#b5bdd1"><circle cx="134.65" cy="754.2" r="4.7"/><circle cx="156.7" cy="790.1" r="4.7"/><circle cx="222.85" cy="868.6" r="4.7"/><circle cx="266.95" cy="697.2" r="4.7"/><circle cx="333.1" cy="835.4" r="4.7"/><circle cx="355.15" cy="835.4" r="4.7"/><circle cx="399.25" cy="789.8" r="4.7"/><circle cx="465.4" cy="852.3" r="4.7"/><circle cx="487.45" cy="825.7" r="4.7"/><circle cx="509.5" cy="822.2" r="4.7"/><circle cx="531.55" cy="845.8" r="4.7"/><circle cx="553.6" cy="844.4" r="4.7"/></g>
<g fill="#9298a7" clip-path="url(#cg)"><circle cx="134.65" cy="754.2" r="4.7"/><circle cx="156.7" cy="790.1" r="4.7"/><circle cx="222.85" cy="868.6" r="4.7"/><circle cx="266.95" cy="697.2" r="4.7"/><circle cx="333.1" cy="835.4" r="4.7"/><circle cx="355.15" cy="835.4" r="4.7"/><circle cx="399.25" cy="789.8" r="4.7"/><circle cx="465.4" cy="852.3" r="4.7"/><circle cx="487.45" cy="825.7" r="4.7"/><circle cx="509.5" cy="822.2" r="4.7"/><circle cx="531.55" cy="845.8" r="4.7"/><circle cx="553.6" cy="844.4" r="4.7"/></g>
<g clip-path="url(#cg)"><g fill="#b3968e" clip-path="url(#cs)"><circle cx="134.65" cy="754.2" r="4.7"/><circle cx="156.7" cy="790.1" r="4.7"/><circle cx="222.85" cy="868.6" r="4.7"/><circle cx="266.95" cy="697.2" r="4.7"/><circle cx="333.1" cy="835.4" r="4.7"/><circle cx="355.15" cy="835.4" r="4.7"/><circle cx="399.25" cy="789.8" r="4.7"/><circle cx="465.4" cy="852.3" r="4.7"/><circle cx="487.45" cy="825.7" r="4.7"/><circle cx="509.5" cy="822.2" r="4.7"/><circle cx="531.55" cy="845.8" r="4.7"/><circle cx="553.6" cy="844.4" r="4.7"/></g></g>
<circle cx="443.35" cy="880.5" r="4.7" fill="#c6c8ca"/>
<path d="M68.5 764.59L597.7 858.01" stroke="#3b465c" stroke-width="1.5" fill="none"/>
<path d="M68.5 836.34L597.7 701.48" stroke="#d13a3c" stroke-width="1.4" fill="none"/>
</g>
<circle cx="134.65" cy="836.8" r="5.5" fill="#d2393b"/>
<circle cx="156.7" cy="844.1" r="5.5" fill="#d2393b"/>
<circle cx="222.85" cy="809.1" r="5.5" fill="#d2393b"/>
<circle cx="333.1" cy="710.1" r="5.5" fill="#d2393b"/>
<circle cx="355.15" cy="680" r="5.5" fill="#d2393b"/>
<circle cx="399.25" cy="800.3" r="5.5" fill="#d2393b"/>
<circle cx="421.3" cy="774.7" r="5.5" fill="#d2393b"/>
<circle cx="443.35" cy="692" r="5.5" fill="#d2393b"/>
<circle cx="465.4" cy="718.2" r="5.5" fill="#d2393b"/>
<circle cx="487.45" cy="742.8" r="5.5" fill="#d2393b"/>
<circle cx="509.5" cy="735.8" r="5.5" fill="#d2393b"/>
<circle cx="531.55" cy="742.5" r="5.5" fill="#d2393b"/>
<circle cx="553.6" cy="735.2" r="5.5" fill="#d2393b"/>
<text id="conf" transform="translate(269.23 778.64) rotate(-13.95)" font-size="18.2" fill="#231f20" textLength="180.6" lengthAdjust="spacingAndGlyphs">95% confidence band</text>
<path d="M347.2 770.3H398" stroke="#ed1c24" stroke-width="2.9" fill="none"/><path d="M406.4 770.3L394.6 766L397.4 770.3L394.6 774.6Z" fill="#ed1c24"/>
<path d="M345.9 819.4H294" stroke="#231f20" stroke-width="3" fill="none"/><path d="M285.6 819.4L297.6 814.9L294.8 819.4L297.6 823.9Z" fill="#231f20"/>
<path d="M68.5 883.1H61.1M68.5 868.79H64.7M68.5 854.48H61.1M68.5 840.16H64.7M68.5 825.85H61.1M68.5 811.54H64.7M68.5 797.23H61.1M68.5 782.91H64.7M68.5 768.6H61.1M68.5 754.29H64.7M68.5 739.98H61.1M68.5 725.66H64.7M68.5 711.35H61.1M68.5 697.04H64.7M68.5 682.73H61.1M68.5 668.41H64.7M68.5 654.1H61.1M68.5 883.1V890.3M90.55 883.1V886.9M112.6 883.1V886.9M134.65 883.1V886.9M156.7 883.1V890.3M178.75 883.1V886.9M200.8 883.1V886.9M222.85 883.1V886.9M244.9 883.1V890.3M266.95 883.1V886.9M289 883.1V886.9M311.05 883.1V886.9M333.1 883.1V890.3M355.15 883.1V886.9M377.2 883.1V886.9M399.25 883.1V886.9M421.3 883.1V890.3M443.35 883.1V886.9M465.4 883.1V886.9M487.45 883.1V886.9M509.5 883.1V890.3M531.55 883.1V886.9M553.6 883.1V886.9M575.65 883.1V886.9M597.7 883.1V890.3" stroke="#414042" stroke-width="1.05" fill="none"/><path d="M68.5 653.6V883.1H597.7" stroke="#414042" stroke-width="1.25" fill="none"/>
<path d="M597.7 882.91H601.9M597.7 879.47H601.9M597.7 876.4H605.3M597.7 856.18H601.9M597.7 844.35H601.9M597.7 835.96H601.9M597.7 829.45H601.9M597.7 824.13H601.9M597.7 819.63H601.9M597.7 815.74H601.9M597.7 812.3H601.9M597.7 809.23H605.3M597.7 789.01H601.9M597.7 777.18H601.9M597.7 768.79H601.9M597.7 762.28H601.9M597.7 756.96H601.9M597.7 752.46H601.9M597.7 748.57H601.9M597.7 745.13H601.9M597.7 742.06H605.3M597.7 721.84H601.9M597.7 710.01H601.9M597.7 701.62H601.9M597.7 695.11H601.9M597.7 689.79H601.9M597.7 685.29H601.9M597.7 681.4H601.9M597.7 677.96H601.9M597.7 674.89H605.3M597.7 654.67H601.9M597.7 653.7V883.6" stroke="#ee3d42" stroke-width="1" fill="none"/>
<text id="by0" x="45.2" y="889.1" font-size="17" fill="#231f20" textLength="12.38" lengthAdjust="spacingAndGlyphs">0</text>
<text id="by2" x="46.4" y="860.48" font-size="17" fill="#231f20" textLength="10.53" lengthAdjust="spacingAndGlyphs">2</text>
<text id="by4" x="46.2" y="831.85" font-size="17" fill="#231f20" textLength="10.65" lengthAdjust="spacingAndGlyphs">4</text>
<text id="by6" x="46.2" y="803.23" font-size="17" fill="#231f20" textLength="12.41" lengthAdjust="spacingAndGlyphs">6</text>
<text id="by8" x="47.2" y="774.6" font-size="17" fill="#231f20" textLength="10.74" lengthAdjust="spacingAndGlyphs">8</text>
<text id="by10" x="37" y="745.98" font-size="17" fill="#231f20" textLength="20.47" lengthAdjust="spacingAndGlyphs">10</text>
<text id="by12" x="39.8" y="717.35" font-size="17" fill="#231f20" textLength="17.21" lengthAdjust="spacingAndGlyphs">12</text>
<text id="by14" x="38.8" y="688.73" font-size="17" fill="#231f20" textLength="18.25" lengthAdjust="spacingAndGlyphs">14</text>
<text id="by16" x="38.8" y="660.1" font-size="17" fill="#231f20" textLength="19.03" lengthAdjust="spacingAndGlyphs">16</text>
<text id="bx0" x="45" y="908" font-size="17" fill="#231f20" textLength="46.41" lengthAdjust="spacingAndGlyphs">2000</text>
<text id="bx1" x="133.8" y="908" font-size="17" fill="#231f20" textLength="45.47" lengthAdjust="spacingAndGlyphs">2004</text>
<text id="bx2" x="223.2" y="908" font-size="17" fill="#231f20" textLength="44.21" lengthAdjust="spacingAndGlyphs">2008</text>
<text id="bx3" x="314" y="908" font-size="17" fill="#231f20" textLength="38.91" lengthAdjust="spacingAndGlyphs">2012</text>
<text id="bx4" x="401.2" y="908" font-size="17" fill="#231f20" textLength="40.2" lengthAdjust="spacingAndGlyphs">2016</text>
<text id="bx5" x="486.8" y="908" font-size="17" fill="#231f20" textLength="42.99" lengthAdjust="spacingAndGlyphs">2020</text>
<text id="bx6" x="576" y="908" font-size="17" fill="#231f20" textLength="43.05" lengthAdjust="spacingAndGlyphs">2024</text>
<text id="bxt" x="265.2" y="927.5" font-size="17.8" fill="#231f20" textLength="133.64" lengthAdjust="spacingAndGlyphs">Publication year</text>
<text id="bm0" x="607.8" y="680.89" font-size="17" fill="#231f20" textLength="46.32" lengthAdjust="spacingAndGlyphs">1,000</text>
<text id="bm1" x="607.2" y="748.06" font-size="17" fill="#231f20" textLength="31.74" lengthAdjust="spacingAndGlyphs">100</text>
<text id="bm2" x="606.8" y="815.23" font-size="17" fill="#231f20" textLength="20.4" lengthAdjust="spacingAndGlyphs">10</text>
<text id="bm3" x="608" y="882.4" font-size="17" fill="#231f20" textLength="6.88" lengthAdjust="spacingAndGlyphs">1</text>
<text id="bl_l" transform="translate(22.6 790) rotate(-90)" font-size="17.2" fill="#231f20" textLength="11.71" lengthAdjust="spacingAndGlyphs" stroke="#fff" stroke-width="0.55">⟨</text>
<text id="bl_g" transform="translate(22.6 755) rotate(-90)" font-size="17.2" fill="#231f20" textLength="12.58" lengthAdjust="spacingAndGlyphs" stroke="#fff" stroke-width="0.55">⟩</text>
<text id="bl_r" transform="translate(23.3 780.2) rotate(-90)" font-size="18.5" fill="#231f20" textLength="5.77" lengthAdjust="spacingAndGlyphs" font-style="italic">r</text>
<text id="bl_h" transform="translate(28.9 775.2) rotate(-90)" font-size="12.8" fill="#231f20" textLength="23.78" lengthAdjust="spacingAndGlyphs">Hall</text>
<text id="br_l" transform="translate(661.6 695.1) rotate(90)" font-size="17.2" fill="#231f20" textLength="12.88" lengthAdjust="spacingAndGlyphs" stroke="#fff" stroke-width="0.55">⟨</text>
<text id="br_g" transform="translate(661.6 735) rotate(90)" font-size="17.2" fill="#231f20" textLength="12.35" lengthAdjust="spacingAndGlyphs" stroke="#fff" stroke-width="0.55">⟩</text>
<text id="br_mu" transform="translate(661.6 705.4) rotate(90)" font-size="17.5" fill="#231f20" textLength="9.54" lengthAdjust="spacingAndGlyphs" font-style="italic">μ</text>
<text id="br_h" transform="translate(656 715.6) rotate(90)" font-size="12.8" fill="#231f20" textLength="22.77" lengthAdjust="spacingAndGlyphs">Hall</text>
<text id="br_p" transform="translate(661.6 749.1) rotate(90)" font-size="17.5" fill="#231f20">(</text>
<text id="br_cm" transform="translate(661.6 754.6) rotate(90)" font-size="17.5" fill="#231f20" textLength="27.13" lengthAdjust="spacingAndGlyphs">cm</text>
<text id="br_2" transform="translate(669.2 781.2) rotate(90)" font-size="12.3" fill="#231f20" textLength="6.77" lengthAdjust="spacingAndGlyphs">2</text>
<text id="br_v" transform="translate(661.6 792.8) rotate(90)" font-size="17.5" fill="#231f20" textLength="10.16" lengthAdjust="spacingAndGlyphs">V</text>
<text id="br_m1m" transform="translate(669.5 801.8) rotate(90)" font-size="11" fill="#231f20" textLength="7.99" lengthAdjust="spacingAndGlyphs">−</text>
<text id="br_m1" transform="translate(669.2 807.3) rotate(90)" font-size="12.3" fill="#231f20">1</text>
<text id="br_s" transform="translate(661.6 818.6) rotate(90)" font-size="17.5" fill="#231f20" textLength="9.46" lengthAdjust="spacingAndGlyphs">s</text>
<text id="br_m1bm" transform="translate(669.5 827.2) rotate(90)" font-size="11" fill="#231f20" textLength="8.57" lengthAdjust="spacingAndGlyphs">−</text>
<text id="br_m1b" transform="translate(669.2 833.5) rotate(90)" font-size="12.3" fill="#231f20">1</text>
<text id="br_p2" transform="translate(661.6 839.05) rotate(90)" font-size="17.5" fill="#231f20">)</text>
</g>
</svg></body></html>
